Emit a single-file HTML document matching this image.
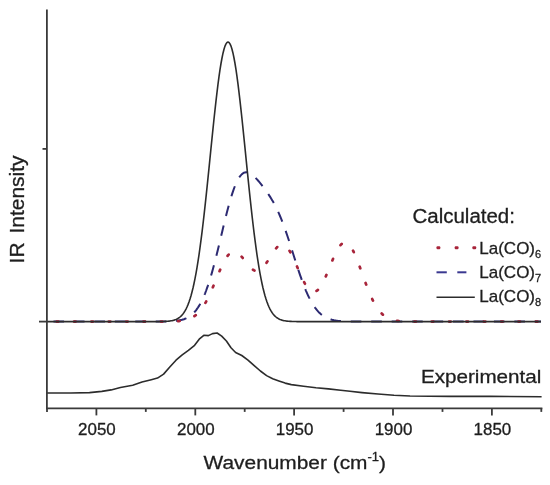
<!DOCTYPE html>
<html><head><meta charset="utf-8"><title>IR spectra</title>
<style>
html,body{margin:0;padding:0;background:#fff}
svg{display:block}
text{font-family:"Liberation Sans",sans-serif;fill:#1e1e1e;stroke:#1e1e1e;stroke-width:0.3px}
</style></head><body>
<svg width="550" height="485" viewBox="0 0 550 485">
<rect width="550" height="485" fill="#fff"/>
<g fill="none" stroke-linejoin="round">
<path d="M46.8,393.0 L70.9,393.0 L89.5,392.6 L101.8,391.4 L111.1,389.9 L120.4,387.5 L132.7,385.2 L142.0,382.0 L151.3,379.7 L157.5,378.1 L163.6,374.1 L169.8,367.0 L176.0,360.2 L182.2,354.9 L188.4,350.3 L194.6,345.3 L199.2,339.2 L203.8,335.3 L208.4,335.6 L212.5,333.6 L217.1,333.0 L221.7,336.1 L226.4,341.0 L231.0,347.8 L235.6,352.5 L241.8,355.5 L248.0,360.2 L254.2,365.7 L260.4,371.0 L266.6,375.6 L272.7,378.7 L278.9,380.9 L285.1,383.1 L291.3,384.6 L303.6,386.2 L316.0,387.7 L328.4,388.9 L340.7,390.2 L350.0,391.3 L362.0,392.6 L378.0,394.0 L394.0,395.2 L410.0,396.0 L450.0,396.4 L490.0,396.4 L541.6,396.8" stroke="#2c2c2c" stroke-width="1.6"/>
<path d="M47.0,321.6 L48.0,321.6 L49.0,321.6 L50.0,321.6 L51.0,321.6 L52.0,321.6 L53.0,321.6 L54.0,321.6 L55.0,321.6 L56.0,321.6 L57.0,321.6 L58.0,321.6 L59.0,321.6 L60.0,321.6 L61.0,321.6 L62.0,321.6 L63.0,321.6 L64.0,321.6 L65.0,321.6 L66.0,321.6 L67.0,321.6 L68.0,321.6 L69.0,321.6 L70.0,321.6 L71.0,321.6 L72.0,321.6 L73.0,321.6 L74.0,321.6 L75.0,321.6 L76.0,321.6 L77.0,321.6 L78.0,321.6 L79.0,321.6 L80.0,321.6 L81.0,321.6 L82.0,321.6 L83.0,321.6 L84.0,321.6 L85.0,321.6 L86.0,321.6 L87.0,321.6 L88.0,321.6 L89.0,321.6 L90.0,321.6 L91.0,321.6 L92.0,321.6 L93.0,321.6 L94.0,321.6 L95.0,321.6 L96.0,321.6 L97.0,321.6 L98.0,321.6 L99.0,321.6 L100.0,321.6 L101.0,321.6 L102.0,321.6 L103.0,321.6 L104.0,321.6 L105.0,321.6 L106.0,321.6 L107.0,321.6 L108.0,321.6 L109.0,321.6 L110.0,321.6 L111.0,321.6 L112.0,321.6 L113.0,321.6 L114.0,321.6 L115.0,321.6 L116.0,321.6 L117.0,321.6 L118.0,321.6 L119.0,321.6 L120.0,321.6 L121.0,321.6 L122.0,321.6 L123.0,321.6 L124.0,321.6 L125.0,321.6 L126.0,321.6 L127.0,321.6 L128.0,321.6 L129.0,321.6 L130.0,321.6 L131.0,321.6 L132.0,321.6 L133.0,321.6 L134.0,321.6 L135.0,321.6 L136.0,321.6 L137.0,321.6 L138.0,321.6 L139.0,321.6 L140.0,321.6 L141.0,321.6 L142.0,321.6 L143.0,321.6 L144.0,321.6 L145.0,321.6 L146.0,321.6 L147.0,321.6 L148.0,321.6 L149.0,321.6 L150.0,321.6 L151.0,321.6 L152.0,321.6 L153.0,321.6 L154.0,321.6 L155.0,321.6 L156.0,321.6 L157.0,321.6 L158.0,321.6 L159.0,321.6 L160.0,321.6 L161.0,321.6 L162.0,321.5 L163.0,321.5 L164.0,321.5 L165.0,321.5 L166.0,321.5 L167.0,321.5 L168.0,321.4 L169.0,321.4 L170.0,321.3 L171.0,321.3 L172.0,321.2 L173.0,321.2 L174.0,321.1 L175.0,321.0 L176.0,320.9 L177.0,320.8 L178.0,320.6 L179.0,320.4 L180.0,320.2 L181.0,320.0 L182.0,319.8 L183.0,319.5 L184.0,319.2 L185.0,318.8 L186.0,318.4 L187.0,317.9 L188.0,317.4 L189.0,316.8 L190.0,316.1 L191.0,315.3 L192.0,314.5 L193.0,313.6 L194.0,312.6 L195.0,311.5 L196.0,310.3 L197.0,308.9 L198.0,307.5 L199.0,305.9 L200.0,304.2 L201.0,302.4 L202.0,300.4 L203.0,298.3 L204.0,296.0 L205.0,293.6 L206.0,291.0 L207.0,288.2 L208.0,285.4 L209.0,282.3 L210.0,279.1 L211.0,275.8 L212.0,272.4 L213.0,268.8 L214.0,265.0 L215.0,261.2 L216.0,257.3 L217.0,253.3 L218.0,249.2 L219.0,245.1 L220.0,240.9 L221.0,236.7 L222.0,232.5 L223.0,228.3 L224.0,224.1 L225.0,220.0 L226.0,216.0 L227.0,212.1 L228.0,208.2 L229.0,204.5 L230.0,201.0 L231.0,197.6 L232.0,194.4 L233.0,191.4 L234.0,188.5 L235.0,185.9 L236.0,183.5 L237.0,181.4 L238.0,179.5 L239.0,177.8 L240.0,176.3 L241.0,175.1 L242.0,174.1 L243.0,173.3 L244.0,172.7 L245.0,172.4 L246.0,172.2 L247.0,172.2 L248.0,172.4 L249.0,172.7 L250.0,173.2 L251.0,173.8 L252.0,174.5 L253.0,175.3 L254.0,176.2 L255.0,177.2 L256.0,178.3 L257.0,179.4 L258.0,180.5 L259.0,181.7 L260.0,182.9 L261.0,184.1 L262.0,185.4 L263.0,186.7 L264.0,188.0 L265.0,189.4 L266.0,190.8 L267.0,192.2 L268.0,193.6 L269.0,195.1 L270.0,196.6 L271.0,198.2 L272.0,199.9 L273.0,201.6 L274.0,203.4 L275.0,205.3 L276.0,207.2 L277.0,209.3 L278.0,211.4 L279.0,213.6 L280.0,216.0 L281.0,218.4 L282.0,220.9 L283.0,223.5 L284.0,226.2 L285.0,229.0 L286.0,231.8 L287.0,234.8 L288.0,237.8 L289.0,240.8 L290.0,243.9 L291.0,247.0 L292.0,250.2 L293.0,253.3 L294.0,256.5 L295.0,259.6 L296.0,262.8 L297.0,265.9 L298.0,268.9 L299.0,271.9 L300.0,274.9 L301.0,277.7 L302.0,280.5 L303.0,283.2 L304.0,285.8 L305.0,288.3 L306.0,290.8 L307.0,293.1 L308.0,295.3 L309.0,297.4 L310.0,299.3 L311.0,301.2 L312.0,303.0 L313.0,304.6 L314.0,306.2 L315.0,307.6 L316.0,308.9 L317.0,310.2 L318.0,311.3 L319.0,312.4 L320.0,313.3 L321.0,314.2 L322.0,315.0 L323.0,315.8 L324.0,316.4 L325.0,317.0 L326.0,317.6 L327.0,318.0 L328.0,318.5 L329.0,318.9 L330.0,319.2 L331.0,319.5 L332.0,319.8 L333.0,320.0 L334.0,320.3 L335.0,320.4 L336.0,320.6 L337.0,320.7 L338.0,320.9 L339.0,321.0 L340.0,321.1 L341.0,321.1 L342.0,321.2 L343.0,321.3 L344.0,321.3 L345.0,321.4 L346.0,321.4 L347.0,321.4 L348.0,321.5 L349.0,321.5 L350.0,321.5 L351.0,321.5 L352.0,321.5 L353.0,321.5 L354.0,321.6 L355.0,321.6 L356.0,321.6 L357.0,321.6 L358.0,321.6 L359.0,321.6 L360.0,321.6 L361.0,321.6 L362.0,321.6 L363.0,321.6 L364.0,321.6 L365.0,321.6 L366.0,321.6 L367.0,321.6 L368.0,321.6 L369.0,321.6 L370.0,321.6 L371.0,321.6 L372.0,321.6 L373.0,321.6 L374.0,321.6 L375.0,321.6 L376.0,321.6 L377.0,321.6 L378.0,321.6 L379.0,321.6 L380.0,321.6 L381.0,321.6 L382.0,321.6 L383.0,321.6 L384.0,321.6 L385.0,321.6 L386.0,321.6 L387.0,321.6 L388.0,321.6 L389.0,321.6 L390.0,321.6 L391.0,321.6 L392.0,321.6 L393.0,321.6 L394.0,321.6 L395.0,321.6 L396.0,321.6 L397.0,321.6 L398.0,321.6 L399.0,321.6 L400.0,321.6 L401.0,321.6 L402.0,321.6 L403.0,321.6 L404.0,321.6 L405.0,321.6 L406.0,321.6 L407.0,321.6 L408.0,321.6 L409.0,321.6 L410.0,321.6 L411.0,321.6 L412.0,321.6 L413.0,321.6 L414.0,321.6 L415.0,321.6 L416.0,321.6 L417.0,321.6 L418.0,321.6 L419.0,321.6 L420.0,321.6 L421.0,321.6 L422.0,321.6 L423.0,321.6 L424.0,321.6 L425.0,321.6 L426.0,321.6 L427.0,321.6 L428.0,321.6 L429.0,321.6 L430.0,321.6 L431.0,321.6 L432.0,321.6 L433.0,321.6 L434.0,321.6 L435.0,321.6 L436.0,321.6 L437.0,321.6 L438.0,321.6 L439.0,321.6 L440.0,321.6 L441.0,321.6 L442.0,321.6 L443.0,321.6 L444.0,321.6 L445.0,321.6 L446.0,321.6 L447.0,321.6 L448.0,321.6 L449.0,321.6 L450.0,321.6 L451.0,321.6 L452.0,321.6 L453.0,321.6 L454.0,321.6 L455.0,321.6 L456.0,321.6 L457.0,321.6 L458.0,321.6 L459.0,321.6 L460.0,321.6 L461.0,321.6 L462.0,321.6 L463.0,321.6 L464.0,321.6 L465.0,321.6 L466.0,321.6 L467.0,321.6 L468.0,321.6 L469.0,321.6 L470.0,321.6 L471.0,321.6 L472.0,321.6 L473.0,321.6 L474.0,321.6 L475.0,321.6 L476.0,321.6 L477.0,321.6 L478.0,321.6 L479.0,321.6 L480.0,321.6 L481.0,321.6 L482.0,321.6 L483.0,321.6 L484.0,321.6 L485.0,321.6 L486.0,321.6 L487.0,321.6 L488.0,321.6 L489.0,321.6 L490.0,321.6 L491.0,321.6 L492.0,321.6 L493.0,321.6 L494.0,321.6 L495.0,321.6 L496.0,321.6 L497.0,321.6 L498.0,321.6 L499.0,321.6 L500.0,321.6 L501.0,321.6 L502.0,321.6 L503.0,321.6 L504.0,321.6 L505.0,321.6 L506.0,321.6 L507.0,321.6 L508.0,321.6 L509.0,321.6 L510.0,321.6 L511.0,321.6 L512.0,321.6 L513.0,321.6 L514.0,321.6 L515.0,321.6 L516.0,321.6 L517.0,321.6 L518.0,321.6 L519.0,321.6 L520.0,321.6 L521.0,321.6 L522.0,321.6 L523.0,321.6 L524.0,321.6 L525.0,321.6 L526.0,321.6 L527.0,321.6 L528.0,321.6 L529.0,321.6 L530.0,321.6 L531.0,321.6 L532.0,321.6 L533.0,321.6 L534.0,321.6 L535.0,321.6 L536.0,321.6 L537.0,321.6 L538.0,321.6 L539.0,321.6 L540.0,321.6 L541.0,321.6" stroke="#2c2a72" stroke-width="2.0" stroke-dasharray="10.6 9.85" stroke-dashoffset="13.97"/>
<path d="M47.0,321.6 L48.0,321.6 L49.0,321.6 L50.0,321.6 L51.0,321.6 L52.0,321.6 L53.0,321.6 L54.0,321.6 L55.0,321.6 L56.0,321.6 L57.0,321.6 L58.0,321.6 L59.0,321.6 L60.0,321.6 L61.0,321.6 L62.0,321.6 L63.0,321.6 L64.0,321.6 L65.0,321.6 L66.0,321.6 L67.0,321.6 L68.0,321.6 L69.0,321.6 L70.0,321.6 L71.0,321.6 L72.0,321.6 L73.0,321.6 L74.0,321.6 L75.0,321.6 L76.0,321.6 L77.0,321.6 L78.0,321.6 L79.0,321.6 L80.0,321.6 L81.0,321.6 L82.0,321.6 L83.0,321.6 L84.0,321.6 L85.0,321.6 L86.0,321.6 L87.0,321.6 L88.0,321.6 L89.0,321.6 L90.0,321.6 L91.0,321.6 L92.0,321.6 L93.0,321.6 L94.0,321.6 L95.0,321.6 L96.0,321.6 L97.0,321.6 L98.0,321.6 L99.0,321.6 L100.0,321.6 L101.0,321.6 L102.0,321.6 L103.0,321.6 L104.0,321.6 L105.0,321.6 L106.0,321.6 L107.0,321.6 L108.0,321.6 L109.0,321.6 L110.0,321.6 L111.0,321.6 L112.0,321.6 L113.0,321.6 L114.0,321.6 L115.0,321.6 L116.0,321.6 L117.0,321.6 L118.0,321.6 L119.0,321.6 L120.0,321.6 L121.0,321.6 L122.0,321.6 L123.0,321.6 L124.0,321.6 L125.0,321.6 L126.0,321.6 L127.0,321.6 L128.0,321.6 L129.0,321.6 L130.0,321.6 L131.0,321.6 L132.0,321.6 L133.0,321.6 L134.0,321.6 L135.0,321.6 L136.0,321.6 L137.0,321.6 L138.0,321.6 L139.0,321.6 L140.0,321.6 L141.0,321.6 L142.0,321.6 L143.0,321.6 L144.0,321.6 L145.0,321.6 L146.0,321.6 L147.0,321.6 L148.0,321.6 L149.0,321.6 L150.0,321.6 L151.0,321.6 L152.0,321.6 L153.0,321.6 L154.0,321.6 L155.0,321.6 L156.0,321.6 L157.0,321.6 L158.0,321.6 L159.0,321.6 L160.0,321.6 L161.0,321.6 L162.0,321.6 L163.0,321.6 L164.0,321.6 L165.0,321.6 L166.0,321.6 L167.0,321.6 L168.0,321.5 L169.0,321.5 L170.0,321.5 L171.0,321.5 L172.0,321.5 L173.0,321.5 L174.0,321.4 L175.0,321.4 L176.0,321.3 L177.0,321.3 L178.0,321.2 L179.0,321.1 L180.0,321.0 L181.0,320.9 L182.0,320.8 L183.0,320.6 L184.0,320.4 L185.0,320.2 L186.0,320.0 L187.0,319.7 L188.0,319.4 L189.0,319.1 L190.0,318.7 L191.0,318.2 L192.0,317.7 L193.0,317.1 L194.0,316.5 L195.0,315.7 L196.0,314.9 L197.0,314.1 L198.0,313.1 L199.0,312.0 L200.0,310.9 L201.0,309.6 L202.0,308.3 L203.0,306.8 L204.0,305.2 L205.0,303.6 L206.0,301.8 L207.0,299.9 L208.0,298.0 L209.0,295.9 L210.0,293.7 L211.0,291.5 L212.0,289.2 L213.0,286.9 L214.0,284.5 L215.0,282.1 L216.0,279.6 L217.0,277.2 L218.0,274.8 L219.0,272.4 L220.0,270.1 L221.0,267.8 L222.0,265.6 L223.0,263.6 L224.0,261.6 L225.0,259.8 L226.0,258.1 L227.0,256.7 L228.0,255.3 L229.0,254.2 L230.0,253.3 L231.0,252.6 L232.0,252.1 L233.0,251.8 L234.0,251.7 L235.0,251.8 L236.0,252.0 L237.0,252.5 L238.0,253.2 L239.0,254.0 L240.0,254.9 L241.0,256.0 L242.0,257.1 L243.0,258.3 L244.0,259.6 L245.0,260.9 L246.0,262.3 L247.0,263.6 L248.0,264.8 L249.0,266.0 L250.0,267.1 L251.0,268.1 L252.0,269.0 L253.0,269.8 L254.0,270.3 L255.0,270.7 L256.0,271.0 L257.0,271.0 L258.0,270.9 L259.0,270.6 L260.0,270.0 L261.0,269.4 L262.0,268.5 L263.0,267.5 L264.0,266.3 L265.0,265.0 L266.0,263.6 L267.0,262.1 L268.0,260.5 L269.0,258.9 L270.0,257.2 L271.0,255.6 L272.0,254.0 L273.0,252.4 L274.0,251.0 L275.0,249.6 L276.0,248.4 L277.0,247.3 L278.0,246.3 L279.0,245.6 L280.0,245.1 L281.0,244.7 L282.0,244.6 L283.0,244.7 L284.0,245.0 L285.0,245.6 L286.0,246.4 L287.0,247.4 L288.0,248.6 L289.0,250.0 L290.0,251.6 L291.0,253.4 L292.0,255.3 L293.0,257.4 L294.0,259.5 L295.0,261.8 L296.0,264.1 L297.0,266.4 L298.0,268.8 L299.0,271.2 L300.0,273.5 L301.0,275.8 L302.0,278.0 L303.0,280.1 L304.0,282.0 L305.0,283.9 L306.0,285.6 L307.0,287.1 L308.0,288.4 L309.0,289.6 L310.0,290.5 L311.0,291.2 L312.0,291.7 L313.0,291.9 L314.0,292.0 L315.0,291.7 L316.0,291.3 L317.0,290.6 L318.0,289.8 L319.0,288.7 L320.0,287.3 L321.0,285.8 L322.0,284.1 L323.0,282.3 L324.0,280.3 L325.0,278.1 L326.0,275.9 L327.0,273.6 L328.0,271.1 L329.0,268.7 L330.0,266.2 L331.0,263.7 L332.0,261.3 L333.0,258.9 L334.0,256.6 L335.0,254.4 L336.0,252.3 L337.0,250.4 L338.0,248.6 L339.0,247.1 L340.0,245.7 L341.0,244.6 L342.0,243.7 L343.0,243.0 L344.0,242.6 L345.0,242.5 L346.0,242.6 L347.0,243.0 L348.0,243.7 L349.0,244.6 L350.0,245.8 L351.0,247.2 L352.0,248.8 L353.0,250.6 L354.0,252.6 L355.0,254.8 L356.0,257.1 L357.0,259.6 L358.0,262.1 L359.0,264.8 L360.0,267.5 L361.0,270.3 L362.0,273.1 L363.0,275.9 L364.0,278.6 L365.0,281.4 L366.0,284.1 L367.0,286.7 L368.0,289.3 L369.0,291.8 L370.0,294.1 L371.0,296.4 L372.0,298.6 L373.0,300.6 L374.0,302.6 L375.0,304.4 L376.0,306.1 L377.0,307.6 L378.0,309.1 L379.0,310.4 L380.0,311.7 L381.0,312.8 L382.0,313.8 L383.0,314.8 L384.0,315.6 L385.0,316.3 L386.0,317.0 L387.0,317.6 L388.0,318.2 L389.0,318.6 L390.0,319.0 L391.0,319.4 L392.0,319.7 L393.0,320.0 L394.0,320.3 L395.0,320.5 L396.0,320.6 L397.0,320.8 L398.0,320.9 L399.0,321.0 L400.0,321.1 L401.0,321.2 L402.0,321.3 L403.0,321.3 L404.0,321.4 L405.0,321.4 L406.0,321.5 L407.0,321.5 L408.0,321.5 L409.0,321.5 L410.0,321.5 L411.0,321.6 L412.0,321.6 L413.0,321.6 L414.0,321.6 L415.0,321.6 L416.0,321.6 L417.0,321.6 L418.0,321.6 L419.0,321.6 L420.0,321.6 L421.0,321.6 L422.0,321.6 L423.0,321.6 L424.0,321.6 L425.0,321.6 L426.0,321.6 L427.0,321.6 L428.0,321.6 L429.0,321.6 L430.0,321.6 L431.0,321.6 L432.0,321.6 L433.0,321.6 L434.0,321.6 L435.0,321.6 L436.0,321.6 L437.0,321.6 L438.0,321.6 L439.0,321.6 L440.0,321.6 L441.0,321.6 L442.0,321.6 L443.0,321.6 L444.0,321.6 L445.0,321.6 L446.0,321.6 L447.0,321.6 L448.0,321.6 L449.0,321.6 L450.0,321.6 L451.0,321.6 L452.0,321.6 L453.0,321.6 L454.0,321.6 L455.0,321.6 L456.0,321.6 L457.0,321.6 L458.0,321.6 L459.0,321.6 L460.0,321.6 L461.0,321.6 L462.0,321.6 L463.0,321.6 L464.0,321.6 L465.0,321.6 L466.0,321.6 L467.0,321.6 L468.0,321.6 L469.0,321.6 L470.0,321.6 L471.0,321.6 L472.0,321.6 L473.0,321.6 L474.0,321.6 L475.0,321.6 L476.0,321.6 L477.0,321.6 L478.0,321.6 L479.0,321.6 L480.0,321.6 L481.0,321.6 L482.0,321.6 L483.0,321.6 L484.0,321.6 L485.0,321.6 L486.0,321.6 L487.0,321.6 L488.0,321.6 L489.0,321.6 L490.0,321.6 L491.0,321.6 L492.0,321.6 L493.0,321.6 L494.0,321.6 L495.0,321.6 L496.0,321.6 L497.0,321.6 L498.0,321.6 L499.0,321.6 L500.0,321.6 L501.0,321.6 L502.0,321.6 L503.0,321.6 L504.0,321.6 L505.0,321.6 L506.0,321.6 L507.0,321.6 L508.0,321.6 L509.0,321.6 L510.0,321.6 L511.0,321.6 L512.0,321.6 L513.0,321.6 L514.0,321.6 L515.0,321.6 L516.0,321.6 L517.0,321.6 L518.0,321.6 L519.0,321.6 L520.0,321.6 L521.0,321.6 L522.0,321.6 L523.0,321.6 L524.0,321.6 L525.0,321.6 L526.0,321.6 L527.0,321.6 L528.0,321.6 L529.0,321.6 L530.0,321.6 L531.0,321.6 L532.0,321.6 L533.0,321.6 L534.0,321.6 L535.0,321.6 L536.0,321.6 L537.0,321.6 L538.0,321.6 L539.0,321.6 L540.0,321.6 L541.0,321.6" stroke="#a8243a" stroke-width="2.7" stroke-linecap="round" stroke-dasharray="1.7 15.65" stroke-dashoffset="7.71"/>
<path d="M47.0,321.6 L48.0,321.6 L49.0,321.6 L50.0,321.6 L51.0,321.6 L52.0,321.6 L53.0,321.6 L54.0,321.6 L55.0,321.6 L56.0,321.6 L57.0,321.6 L58.0,321.6 L59.0,321.6 L60.0,321.6 L61.0,321.6 L62.0,321.6 L63.0,321.6 L64.0,321.6 L65.0,321.6 L66.0,321.6 L67.0,321.6 L68.0,321.6 L69.0,321.6 L70.0,321.6 L71.0,321.6 L72.0,321.6 L73.0,321.6 L74.0,321.6 L75.0,321.6 L76.0,321.6 L77.0,321.6 L78.0,321.6 L79.0,321.6 L80.0,321.6 L81.0,321.6 L82.0,321.6 L83.0,321.6 L84.0,321.6 L85.0,321.6 L86.0,321.6 L87.0,321.6 L88.0,321.6 L89.0,321.6 L90.0,321.6 L91.0,321.6 L92.0,321.6 L93.0,321.6 L94.0,321.6 L95.0,321.6 L96.0,321.6 L97.0,321.6 L98.0,321.6 L99.0,321.6 L100.0,321.6 L101.0,321.6 L102.0,321.6 L103.0,321.6 L104.0,321.6 L105.0,321.6 L106.0,321.6 L107.0,321.6 L108.0,321.6 L109.0,321.6 L110.0,321.6 L111.0,321.6 L112.0,321.6 L113.0,321.6 L114.0,321.6 L115.0,321.6 L116.0,321.6 L117.0,321.6 L118.0,321.6 L119.0,321.6 L120.0,321.6 L121.0,321.6 L122.0,321.6 L123.0,321.6 L124.0,321.6 L125.0,321.6 L126.0,321.6 L127.0,321.6 L128.0,321.6 L129.0,321.6 L130.0,321.6 L131.0,321.6 L132.0,321.6 L133.0,321.6 L134.0,321.6 L135.0,321.6 L136.0,321.6 L137.0,321.6 L138.0,321.6 L139.0,321.6 L140.0,321.6 L141.0,321.6 L142.0,321.6 L143.0,321.6 L144.0,321.6 L145.0,321.6 L146.0,321.6 L147.0,321.6 L148.0,321.6 L149.0,321.6 L150.0,321.6 L151.0,321.6 L152.0,321.6 L153.0,321.6 L154.0,321.6 L155.0,321.6 L156.0,321.6 L157.0,321.6 L158.0,321.6 L159.0,321.6 L160.0,321.5 L161.0,321.5 L162.0,321.5 L163.0,321.5 L164.0,321.5 L165.0,321.4 L166.0,321.4 L167.0,321.3 L168.0,321.2 L169.0,321.1 L170.0,321.0 L171.0,320.8 L172.0,320.7 L173.0,320.4 L174.0,320.2 L175.0,319.8 L176.0,319.5 L177.0,319.0 L178.0,318.4 L179.0,317.8 L180.0,317.0 L181.0,316.1 L182.0,315.1 L183.0,313.9 L184.0,312.5 L185.0,310.9 L186.0,309.1 L187.0,307.0 L188.0,304.6 L189.0,302.0 L190.0,299.0 L191.0,295.7 L192.0,292.0 L193.0,288.0 L194.0,283.5 L195.0,278.6 L196.0,273.3 L197.0,267.6 L198.0,261.4 L199.0,254.8 L200.0,247.7 L201.0,240.2 L202.0,232.3 L203.0,224.0 L204.0,215.4 L205.0,206.4 L206.0,197.1 L207.0,187.6 L208.0,177.9 L209.0,168.1 L210.0,158.2 L211.0,148.2 L212.0,138.4 L213.0,128.6 L214.0,119.0 L215.0,109.8 L216.0,100.8 L217.0,92.3 L218.0,84.2 L219.0,76.7 L220.0,69.7 L221.0,63.5 L222.0,58.0 L223.0,53.2 L224.0,49.2 L225.0,46.1 L226.0,43.9 L227.0,42.5 L228.0,42.1 L229.0,42.5 L230.0,43.9 L231.0,46.1 L232.0,49.2 L233.0,53.2 L234.0,58.0 L235.0,63.5 L236.0,69.7 L237.0,76.7 L238.0,84.2 L239.0,92.3 L240.0,100.8 L241.0,109.8 L242.0,119.0 L243.0,128.6 L244.0,138.4 L245.0,148.2 L246.0,158.2 L247.0,168.1 L248.0,177.9 L249.0,187.6 L250.0,197.1 L251.0,206.4 L252.0,215.4 L253.0,224.0 L254.0,232.3 L255.0,240.2 L256.0,247.7 L257.0,254.8 L258.0,261.4 L259.0,267.6 L260.0,273.3 L261.0,278.6 L262.0,283.5 L263.0,288.0 L264.0,292.0 L265.0,295.7 L266.0,299.0 L267.0,302.0 L268.0,304.6 L269.0,307.0 L270.0,309.1 L271.0,310.9 L272.0,312.5 L273.0,313.9 L274.0,315.1 L275.0,316.1 L276.0,317.0 L277.0,317.8 L278.0,318.4 L279.0,319.0 L280.0,319.5 L281.0,319.8 L282.0,320.2 L283.0,320.4 L284.0,320.7 L285.0,320.8 L286.0,321.0 L287.0,321.1 L288.0,321.2 L289.0,321.3 L290.0,321.4 L291.0,321.4 L292.0,321.5 L293.0,321.5 L294.0,321.5 L295.0,321.5 L296.0,321.5 L297.0,321.6 L298.0,321.6 L299.0,321.6 L300.0,321.6 L301.0,321.6 L302.0,321.6 L303.0,321.6 L304.0,321.6 L305.0,321.6 L306.0,321.6 L307.0,321.6 L308.0,321.6 L309.0,321.6 L310.0,321.6 L311.0,321.6 L312.0,321.6 L313.0,321.6 L314.0,321.6 L315.0,321.6 L316.0,321.6 L317.0,321.6 L318.0,321.6 L319.0,321.6 L320.0,321.6 L321.0,321.6 L322.0,321.6 L323.0,321.6 L324.0,321.6 L325.0,321.6 L326.0,321.6 L327.0,321.6 L328.0,321.6 L329.0,321.6 L330.0,321.6 L331.0,321.6 L332.0,321.6 L333.0,321.6 L334.0,321.6 L335.0,321.6 L336.0,321.6 L337.0,321.6 L338.0,321.6 L339.0,321.6 L340.0,321.6 L341.0,321.6 L342.0,321.6 L343.0,321.6 L344.0,321.6 L345.0,321.6 L346.0,321.6 L347.0,321.6 L348.0,321.6 L349.0,321.6 L350.0,321.6 L351.0,321.6 L352.0,321.6 L353.0,321.6 L354.0,321.6 L355.0,321.6 L356.0,321.6 L357.0,321.6 L358.0,321.6 L359.0,321.6 L360.0,321.6 L361.0,321.6 L362.0,321.6 L363.0,321.6 L364.0,321.6 L365.0,321.6 L366.0,321.6 L367.0,321.6 L368.0,321.6 L369.0,321.6 L370.0,321.6 L371.0,321.6 L372.0,321.6 L373.0,321.6 L374.0,321.6 L375.0,321.6 L376.0,321.6 L377.0,321.6 L378.0,321.6 L379.0,321.6 L380.0,321.6 L381.0,321.6 L382.0,321.6 L383.0,321.6 L384.0,321.6 L385.0,321.6 L386.0,321.6 L387.0,321.6 L388.0,321.6 L389.0,321.6 L390.0,321.6 L391.0,321.6 L392.0,321.6 L393.0,321.6 L394.0,321.6 L395.0,321.6 L396.0,321.6 L397.0,321.6 L398.0,321.6 L399.0,321.6 L400.0,321.6 L401.0,321.6 L402.0,321.6 L403.0,321.6 L404.0,321.6 L405.0,321.6 L406.0,321.6 L407.0,321.6 L408.0,321.6 L409.0,321.6 L410.0,321.6 L411.0,321.6 L412.0,321.6 L413.0,321.6 L414.0,321.6 L415.0,321.6 L416.0,321.6 L417.0,321.6 L418.0,321.6 L419.0,321.6 L420.0,321.6 L421.0,321.6 L422.0,321.6 L423.0,321.6 L424.0,321.6 L425.0,321.6 L426.0,321.6 L427.0,321.6 L428.0,321.6 L429.0,321.6 L430.0,321.6 L431.0,321.6 L432.0,321.6 L433.0,321.6 L434.0,321.6 L435.0,321.6 L436.0,321.6 L437.0,321.6 L438.0,321.6 L439.0,321.6 L440.0,321.6 L441.0,321.6 L442.0,321.6 L443.0,321.6 L444.0,321.6 L445.0,321.6 L446.0,321.6 L447.0,321.6 L448.0,321.6 L449.0,321.6 L450.0,321.6 L451.0,321.6 L452.0,321.6 L453.0,321.6 L454.0,321.6 L455.0,321.6 L456.0,321.6 L457.0,321.6 L458.0,321.6 L459.0,321.6 L460.0,321.6 L461.0,321.6 L462.0,321.6 L463.0,321.6 L464.0,321.6 L465.0,321.6 L466.0,321.6 L467.0,321.6 L468.0,321.6 L469.0,321.6 L470.0,321.6 L471.0,321.6 L472.0,321.6 L473.0,321.6 L474.0,321.6 L475.0,321.6 L476.0,321.6 L477.0,321.6 L478.0,321.6 L479.0,321.6 L480.0,321.6 L481.0,321.6 L482.0,321.6 L483.0,321.6 L484.0,321.6 L485.0,321.6 L486.0,321.6 L487.0,321.6 L488.0,321.6 L489.0,321.6 L490.0,321.6 L491.0,321.6 L492.0,321.6 L493.0,321.6 L494.0,321.6 L495.0,321.6 L496.0,321.6 L497.0,321.6 L498.0,321.6 L499.0,321.6 L500.0,321.6 L501.0,321.6 L502.0,321.6 L503.0,321.6 L504.0,321.6 L505.0,321.6 L506.0,321.6 L507.0,321.6 L508.0,321.6 L509.0,321.6 L510.0,321.6 L511.0,321.6 L512.0,321.6 L513.0,321.6 L514.0,321.6 L515.0,321.6 L516.0,321.6 L517.0,321.6 L518.0,321.6 L519.0,321.6 L520.0,321.6 L521.0,321.6 L522.0,321.6 L523.0,321.6 L524.0,321.6 L525.0,321.6 L526.0,321.6 L527.0,321.6 L528.0,321.6 L529.0,321.6 L530.0,321.6 L531.0,321.6 L532.0,321.6 L533.0,321.6 L534.0,321.6 L535.0,321.6 L536.0,321.6 L537.0,321.6 L538.0,321.6 L539.0,321.6 L540.0,321.6 L541.0,321.6" stroke="#2c2c2c" stroke-width="1.6"/>
</g>
<g stroke="#3a3a3a" stroke-width="1.8" fill="none">
<line x1="46.9" y1="9.5" x2="46.9" y2="409.1"/>
<line x1="46" y1="408.35" x2="542.4" y2="408.35"/>
<line x1="42.5" y1="148.9" x2="46.9" y2="148.9"/>
<line x1="39" y1="321.6" x2="46.9" y2="321.6"/>
<line x1="47.0" y1="408.35" x2="47.0" y2="411.9"/><line x1="96.4" y1="408.35" x2="96.4" y2="415.4"/><line x1="145.8" y1="408.35" x2="145.8" y2="411.9"/><line x1="195.3" y1="408.35" x2="195.3" y2="415.4"/><line x1="244.7" y1="408.35" x2="244.7" y2="411.9"/><line x1="294.1" y1="408.35" x2="294.1" y2="415.4"/><line x1="343.6" y1="408.35" x2="343.6" y2="411.9"/><line x1="393.0" y1="408.35" x2="393.0" y2="415.4"/><line x1="442.5" y1="408.35" x2="442.5" y2="411.9"/><line x1="491.9" y1="408.35" x2="491.9" y2="415.4"/><line x1="541.3" y1="408.35" x2="541.3" y2="411.9"/>
</g>
<g font-size="16.3"><text transform="translate(96.9,435.1) scale(1.04,1)" text-anchor="middle">2050</text><text transform="translate(195.8,435.1) scale(1.04,1)" text-anchor="middle">2000</text><text transform="translate(294.6,435.1) scale(1.04,1)" text-anchor="middle">1950</text><text transform="translate(393.5,435.1) scale(1.04,1)" text-anchor="middle">1900</text><text transform="translate(492.4,435.1) scale(1.04,1)" text-anchor="middle">1850</text></g>
<text transform="translate(203.6,468.7) scale(1.087,1)" font-size="19.2">Wavenumber (cm<tspan font-size="12" dy="-7.6">-1</tspan><tspan dy="7.6">)</tspan></text>
<text transform="translate(24.4,263.4) rotate(-90) scale(1.085,1)" font-size="19.3" word-spacing="2.9">IR Intensity</text>
<text transform="translate(412.5,223.4) scale(1.024,1)" font-size="20">Calculated:</text>
<g font-size="17">
<text x="479.3" y="254.4">La(CO)<tspan font-size="11" dy="4">6</tspan></text>
<text x="479.3" y="278.3">La(CO)<tspan font-size="11" dy="4">7</tspan></text>
<text x="479.3" y="302.3">La(CO)<tspan font-size="11" dy="4">8</tspan></text>
</g>
<g fill="#a8243a"><rect x="436.5" y="246.2" width="3.8" height="3" rx="1"/><rect x="454.7" y="246.2" width="3.8" height="3" rx="1"/><rect x="472.4" y="246.2" width="3.8" height="3" rx="1"/></g>
<g stroke="#3a3890" stroke-width="2.0"><line x1="436.5" y1="272.3" x2="446.8" y2="272.3"/><line x1="457.3" y1="272.3" x2="466.4" y2="272.3"/></g>
<line x1="436.5" y1="297.2" x2="474.8" y2="297.2" stroke="#2c2c2c" stroke-width="1.6"/>
<text transform="translate(420.9,383.3) scale(1.122,1)" font-size="18.4">Experimental</text>
</svg>
</body></html>
